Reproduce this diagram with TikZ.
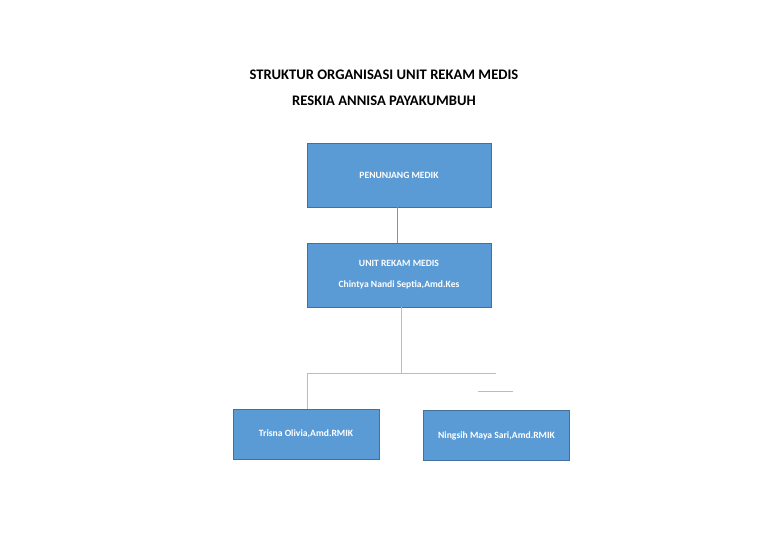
\documentclass[tikz,border=0pt]{standalone}
\usepackage{fontspec}
\setmainfont{Carlito}
\usepackage{xcolor}
\usepackage{tikz}
\usetikzlibrary{positioning}
\definecolor{boxfill}{HTML}{5B9BD5}
\definecolor{boxline}{HTML}{41719C}
\definecolor{linklight}{HTML}{9DC3E6}
\tikzset{
    unitbox/.style={draw=boxline, fill=boxfill, line width=0.8pt, text=white,
        font=\fontsize{9.6}{11}\selectfont\bfseries, align=center,
        minimum width=184pt, minimum height=64pt, inner sep=0pt},
    staffbox/.style={unitbox, minimum width=146pt, minimum height=50pt},
    titletext/.style={font=\fontsize{14.6}{17}\selectfont\bfseries, inner sep=0pt},
    link/.style={draw=boxfill, line width=0.8pt},
    faintlink/.style={draw=linklight, line width=0.8pt}
}

\begin{document}
\begin{tikzpicture}[x=1pt, y=-1pt]
    \useasboundingbox (0,0) rectangle (768,543);
    % judul
    \node[titletext] (title1) at (384,75) {STRUKTUR ORGANISASI UNIT REKAM MEDIS};
    \node[titletext] (title2) at (384,101) {RESKIA ANNISA PAYAKUMBUH};
    % kotak
    \node[unitbox] (penunjang) at (399,175) {PENUNJANG MEDIK};
    \node[unitbox] (rekam) at (399,275) {UNIT REKAM MEDIS\\[10pt]Chintya Nandi Septia,Amd.Kes};
    \node[staffbox] (trisna) at (306,434) {Trisna Olivia,Amd.RMIK};
    \node[staffbox] (ningsih) at (496.5,435.5) {Ningsih Maya Sari,Amd.RMIK};
    % garis
    \draw[link] (penunjang.south -| 397,0) -- (rekam.north -| 397,0);
    \coordinate (branch) at (401,373);
    \coordinate (branchL) at (307,373);
    \coordinate (branchR) at (496,373);
    \coordinate (stubL) at (478,391);
    \coordinate (stubR) at (513,391);
    \draw[faintlink] (rekam.south -| branch) -- (branch);
    \draw[faintlink] (branchR) -- (branchL) -- (branchL |- trisna.north);
    \draw[faintlink] (stubL) -- (stubR);
\end{tikzpicture}
\end{document}
